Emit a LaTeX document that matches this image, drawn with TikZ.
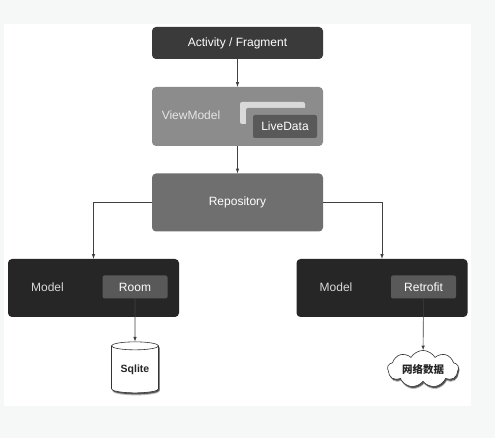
\documentclass[tikz,border=0pt]{standalone}
\usepackage{fontspec}
\setmainfont{Liberation Sans}
\newfontfamily\cjk{Noto Sans CJK SC}
\usetikzlibrary{shapes.geometric,shapes.symbols,shadows}
\definecolor{pagebg}{HTML}{F6F8F7}
\definecolor{darkbox}{HTML}{3A3A3A}
\definecolor{midbox}{HTML}{8C8C8C}
\definecolor{repobox}{HTML}{6F6F6F}
\definecolor{modelbox}{HTML}{262626}
\definecolor{tagbox}{HTML}{595959}
\tikzset{
	layer/.style={rounded corners=4pt, minimum width=171pt, inner sep=0pt, text=white},
	tag/.style={rounded corners=2pt, fill=tagbox, minimum width=65pt, minimum height=23pt, inner sep=0pt, text=white},
	caption/.style={text=#1, inner sep=0pt},
	link/.style={draw=black!75, line width=0.6pt, -latex},
	softshadow/.style={
		drop shadow={shadow xshift=1pt, shadow yshift=-2.5pt, opacity=0.25, fill=black},
		drop shadow={shadow xshift=1pt, shadow yshift=-1.5pt, opacity=0.55, fill=black}},
}
\begin{document}
\begin{tikzpicture}[x=1pt, y=1pt, font=\fontsize{12}{14}\selectfont]
		\useasboundingbox (0, 0) rectangle (495, 438);
		\fill[pagebg] (0, 0) rectangle (495, 438);
		\fill[white] (4, 32) rectangle (471, 414);

		\node[layer, fill=darkbox, minimum height=32pt] (activity) at (237.5, 395) {Activity / Fragment};

		\node[layer, fill=midbox, minimum height=59pt] (viewmodel) at (237.5, 321.5) {};
		\node[caption=white!90!black] (vmlabel) at (191, 323) {ViewModel};
		\fill[rounded corners=2pt, black!15] (240, 314) rectangle (305, 336);
		\fill[rounded corners=2pt, midbox] (246, 302) rectangle (312, 330);
		\node[tag, fill=black!65, minimum width=64pt] (livedata) at (285, 311.5) {LiveData};

		\node[layer, fill=repobox, minimum height=58pt] (repository) at (237.5, 235.5) {Repository};

		\node[layer, fill=modelbox, minimum height=58pt] (modelleft) at (93.5, 150) {};
		\node[caption=white!85!black] (roomlabel) at (47.5, 150.5) {Model};
		\node[tag] (room) at (135, 151) {Room};

		\node[layer, fill=modelbox, minimum height=58pt] (modelright) at (382, 150) {};
		\node[caption=white!85!black] (retrofitlabel) at (336, 150.5) {Model};
		\node[tag] (retrofit) at (423.5, 151) {Retrofit};

		\node[cylinder, shape border rotate=90, aspect=0.28, draw=black!80, fill=white, line width=0.6pt, minimum width=47pt, minimum height=51pt, inner sep=0pt, softshadow, text=black!85, font=\fontsize{10.5}{12}\selectfont\bfseries] (sqlite) at (135, 68.5) {Sqlite};

		\node[cloud, cloud puffs=9, cloud puff arc=120, aspect=2.2, draw=black!80, fill=white, line width=0.6pt, minimum width=71pt, minimum height=35pt, inner sep=0pt, softshadow, text=black!85, font=\fontsize{10.5}{12}\selectfont\cjk\bfseries] (network) at (423, 69) {网络数据};

		\draw[link] (activity) -- (viewmodel);
		\draw[link] (viewmodel) -- (repository);
		\draw[link] (repository.west) -| (modelleft.north);
		\draw[link] (repository.east) -| (modelright.north);
		\draw[link] (room) -- (sqlite.north);
		\draw[link] (retrofit) -- (network);
\end{tikzpicture}
\end{document}
